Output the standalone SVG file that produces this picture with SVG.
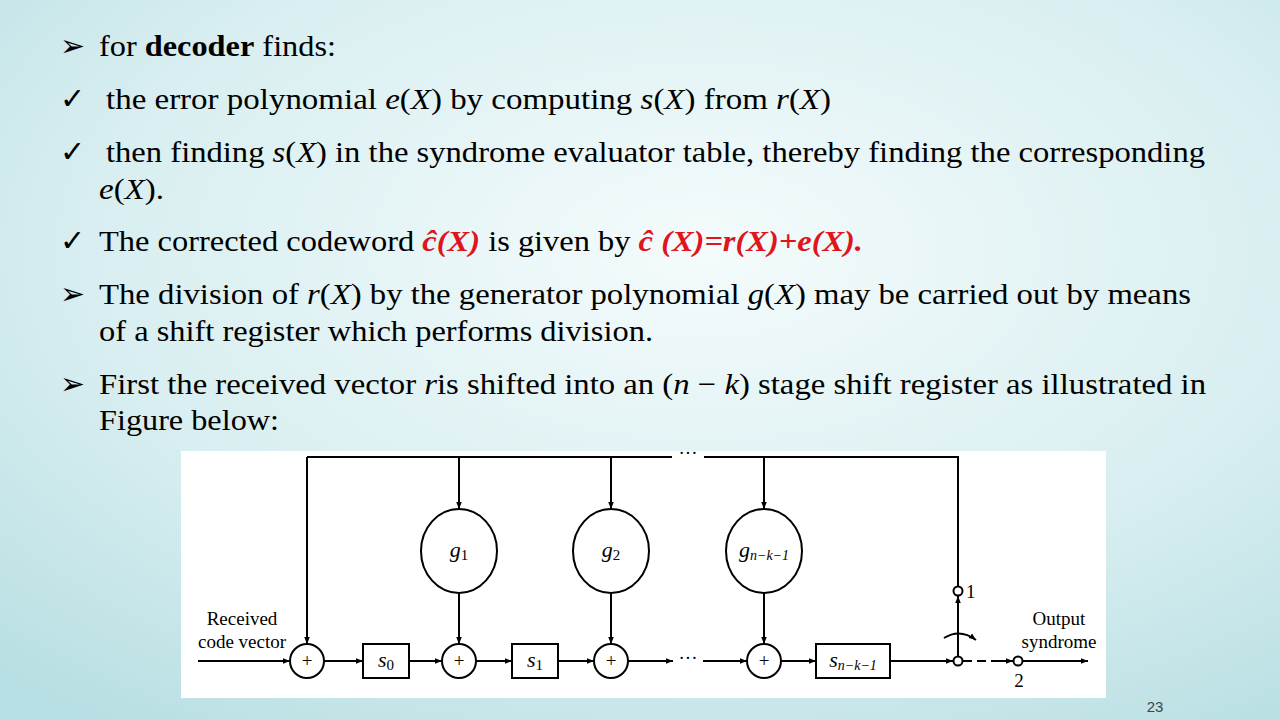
<svg xmlns="http://www.w3.org/2000/svg" width="1280" height="720" viewBox="0 0 1280 720">
<defs>
<radialGradient id="bg" cx="0.55" cy="0.35" r="0.8"><stop offset="0" stop-color="#f4fbfc"/><stop offset="0.6" stop-color="#d8eef0"/><stop offset="1" stop-color="#b8dfe3"/></radialGradient>
<marker id="ar" viewBox="0 0 10 10" refX="10" refY="5" markerWidth="7" markerHeight="7" orient="auto" markerUnits="userSpaceOnUse"><path d="M0,1 L10,5 L0,9 z" fill="#000"/></marker>
<style>
.t{font-family:"Liberation Serif",serif;font-size:30px;fill:#000}
.i{font-style:italic}
.r{fill:#e0141c;font-weight:bold;font-style:italic}
.l{stroke:#000;stroke-width:2;fill:none}
.la{stroke:#000;stroke-width:2;fill:none;marker-end:url(#ar)}
.n{fill:#fff;stroke:#000;stroke-width:2}
.f{font-family:"Liberation Serif",serif;font-size:19px;fill:#000}
.fi{font-family:"Liberation Serif",serif;font-size:22px;font-style:italic;fill:#000}
</style>
</defs>
<rect width="1280" height="720" fill="url(#bg)"/>
<g id="text">
<text class="t" x="60" y="56">➢</text><text class="t" x="99" y="56" textLength="237" lengthAdjust="spacingAndGlyphs">for <tspan font-weight="bold">decoder</tspan> finds:</text>
<text class="t" x="60" y="109">✓</text><text class="t" x="106" y="109" textLength="725" lengthAdjust="spacingAndGlyphs">the error polynomial <tspan class="i">e</tspan>(<tspan class="i">X</tspan>) by computing <tspan class="i">s</tspan>(<tspan class="i">X</tspan>) from <tspan class="i">r</tspan>(<tspan class="i">X</tspan>)</text>
<text class="t" x="60" y="162">✓</text><text class="t" x="106" y="162" textLength="1099" lengthAdjust="spacingAndGlyphs">then finding <tspan class="i">s</tspan>(<tspan class="i">X</tspan>) in the syndrome evaluator table, thereby finding the corresponding</text>
<text class="t" x="99" y="199" textLength="65" lengthAdjust="spacingAndGlyphs"><tspan class="i">e</tspan>(<tspan class="i">X</tspan>).</text>
<text class="t" x="60" y="251">✓</text><text class="t" x="99" y="251" textLength="764" lengthAdjust="spacingAndGlyphs">The corrected codeword <tspan class="r">ĉ(X)</tspan> is given by <tspan class="r">ĉ (X)=r(X)+e(X).</tspan></text>
<text class="t" x="60" y="304">➢</text><text class="t" x="99" y="304" textLength="1092" lengthAdjust="spacingAndGlyphs">The division of <tspan class="i">r</tspan>(<tspan class="i">X</tspan>) by the generator polynomial <tspan class="i">g</tspan>(<tspan class="i">X</tspan>) may be carried out by means</text>
<text class="t" x="99" y="341" textLength="554" lengthAdjust="spacingAndGlyphs">of a shift register which performs division.</text>
<text class="t" x="60" y="394">➢</text><text class="t" x="99" y="394" textLength="1107" lengthAdjust="spacingAndGlyphs">First the received vector <tspan class="i">r</tspan>is shifted into an (<tspan class="i">n</tspan> − <tspan class="i">k</tspan>) stage shift register as illustrated in</text>
<text class="t" x="99" y="430" textLength="180" lengthAdjust="spacingAndGlyphs">Figure below:</text>
<text x="1155" y="712" font-family="Liberation Sans,sans-serif" font-size="15" fill="#444" text-anchor="middle">23</text>
</g>
<rect x="181" y="451" width="925" height="247" fill="#fff"/>
<g id="connectors">
<polyline class="l" points="307,457 672,457"/>
<polyline class="l" points="704,457 958,457 958,587"/>
<text class="f" x="688" y="459" text-anchor="middle">···</text>
<line class="la" x1="307" y1="457" x2="307" y2="644"/>
<line class="la" x1="459" y1="457" x2="459" y2="509"/>
<line class="la" x1="611" y1="457" x2="611" y2="509"/>
<line class="la" x1="764" y1="457" x2="764" y2="509"/>
<line class="la" x1="459" y1="593" x2="459" y2="644"/>
<line class="la" x1="611" y1="593" x2="611" y2="644"/>
<line class="la" x1="764" y1="593" x2="764" y2="644"/>
<line class="la" x1="198" y1="661" x2="290" y2="661"/>
<line class="la" x1="324" y1="661" x2="363" y2="661"/>
<line class="la" x1="409" y1="661" x2="442" y2="661"/>
<line class="la" x1="476" y1="661" x2="512" y2="661"/>
<line class="la" x1="558" y1="661" x2="594" y2="661"/>
<line class="la" x1="628" y1="661" x2="673" y2="661"/>
<text class="f" x="688" y="664" text-anchor="middle">···</text>
<line class="la" x1="703" y1="661" x2="747" y2="661"/>
<line class="la" x1="781" y1="661" x2="816" y2="661"/>
<line class="la" x1="890" y1="661" x2="953" y2="661"/>
<line class="la" x1="958" y1="657" x2="958" y2="596"/>
<line class="l" x1="963" y1="661" x2="1000" y2="661" stroke-dasharray="9,5"/>
<line class="la" x1="1000" y1="661" x2="1013" y2="661"/>
<line class="la" x1="1023" y1="661" x2="1088" y2="661"/>
<path class="la" d="M944,638 Q960,628 976,640" stroke-width="1.5"/>
</g>
<g id="adders">
<circle class="n" cx="307" cy="661" r="17"/><circle class="n" cx="459" cy="661" r="17"/><circle class="n" cx="611" cy="661" r="17"/><circle class="n" cx="764" cy="661" r="17"/>
<text class="f" x="307" y="667" text-anchor="middle">+</text><text class="f" x="459" y="667" text-anchor="middle">+</text><text class="f" x="611" y="667" text-anchor="middle">+</text><text class="f" x="764" y="667" text-anchor="middle">+</text>
</g>
<g id="g1"><ellipse class="n" cx="459" cy="551" rx="38" ry="42"/><text class="fi" x="459" y="557" text-anchor="middle">g<tspan font-size="15" dy="3" font-style="normal">1</tspan></text></g>
<g id="g2"><ellipse class="n" cx="611" cy="551" rx="38" ry="42"/><text class="fi" x="611" y="557" text-anchor="middle">g<tspan font-size="15" dy="3" font-style="normal">2</tspan></text></g>
<g id="gnk"><ellipse class="n" cx="764" cy="551" rx="38" ry="42"/><text class="fi" x="764" y="557" text-anchor="middle">g<tspan font-size="14" dy="3">n−k−1</tspan></text></g>
<g id="s0"><rect class="n" x="363" y="644" width="46" height="34"/><text class="fi" x="386" y="667" text-anchor="middle">s<tspan font-size="15" dy="3" font-style="normal">0</tspan></text></g>
<g id="s1"><rect class="n" x="512" y="644" width="46" height="34"/><text class="fi" x="535" y="667" text-anchor="middle">s<tspan font-size="15" dy="3" font-style="normal">1</tspan></text></g>
<g id="snk"><rect class="n" x="816" y="644" width="74" height="34"/><text class="fi" x="853" y="667" text-anchor="middle">s<tspan font-size="14" dy="3">n−k−1</tspan></text></g>
<g id="switch">
<circle class="n" cx="958" cy="661" r="4.5"/><circle class="n" cx="958" cy="591" r="4.5"/><circle class="n" cx="1018" cy="661" r="4.5"/>
<text class="f" x="966" y="598">1</text><text class="f" x="1019" y="687" text-anchor="middle">2</text>
</g>
<g id="labels">
<text class="f" x="242" y="625" text-anchor="middle">Received</text>
<text class="f" x="242" y="648" text-anchor="middle">code vector</text>
<text class="f" x="1059" y="625" text-anchor="middle">Output</text>
<text class="f" x="1059" y="648" text-anchor="middle">syndrome</text>
</g>
</svg>
